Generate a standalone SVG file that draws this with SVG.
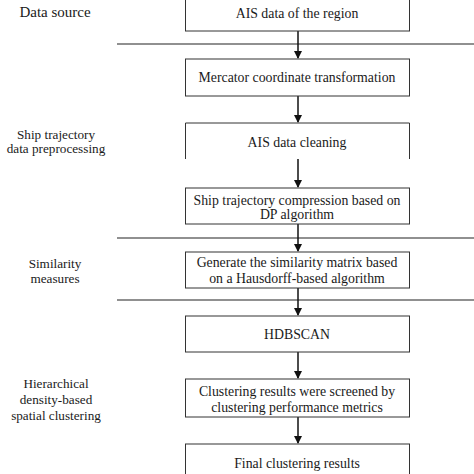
<svg xmlns="http://www.w3.org/2000/svg" width="474" height="474" viewBox="0 0 474 474">
<defs>
<marker id="ah" markerWidth="8" markerHeight="8" refX="7" refY="4" orient="auto" markerUnits="userSpaceOnUse">
<path d="M0,0 L8,4 L0,8 Z" fill="#111"/>
</marker>
<style>
.box{fill:#fff;stroke:#333;stroke-width:1}
.t{font-size:13.8px;fill:#1a1a1a;text-anchor:middle}
.lab{font-size:13.2px;fill:#1a1a1a;text-anchor:middle}
.sep{stroke:#222;stroke-width:1.2}
.arr{stroke:#111;stroke-width:1.5;fill:none;marker-end:url(#ah)}
</style>
</defs>
<rect width="474" height="474" fill="#fff"/>
<g id="separators">
<line class="sep" x1="117" y1="44" x2="474" y2="44"/>
<line class="sep" x1="117" y1="238" x2="474" y2="238"/>
<line class="sep" x1="117" y1="300" x2="474" y2="300"/>
</g>
<g id="labels" font-family="Liberation Serif, Times New Roman, DejaVu Serif, serif">
<text class="lab" x="55" y="17" style="font-size:15px">Data source</text>
<text class="lab" x="56" y="139">Ship trajectory</text>
<text class="lab" x="56" y="153">data preprocessing</text>
<text class="lab" x="55" y="268">Similarity</text>
<text class="lab" x="55" y="283">measures</text>
<text class="lab" x="56" y="388">Hierarchical</text>
<text class="lab" x="56" y="404">density-based</text>
<text class="lab" x="56" y="420">spatial clustering</text>
</g>
<g id="connectors">
<line class="arr" x1="298" y1="31" x2="298" y2="58"/>
<line class="arr" x1="298" y1="96" x2="298" y2="122"/>
<line class="arr" x1="298" y1="159" x2="298" y2="187"/>
<line class="arr" x1="298" y1="224" x2="298" y2="251"/>
<line class="arr" x1="298" y1="288" x2="298" y2="315"/>
<line class="arr" x1="298" y1="352" x2="298" y2="378"/>
<line class="arr" x1="298" y1="417" x2="298" y2="443"/>
</g>
<g id="nodes" font-family="Liberation Serif, Times New Roman, DejaVu Serif, serif">
<g id="n1">
<rect class="box" x="185.5" y="-8" width="224" height="39"/>
<text class="t" x="297" y="18">AIS data of the region</text>
</g>
<g id="n2">
<rect class="box" x="185.5" y="59" width="224" height="37"/>
<text class="t" x="297" y="82">Mercator coordinate transformation</text>
</g>
<g id="n3">
<path d="M185.5,159 V123 H409.5 V159" fill="#fff" stroke="#333" stroke-width="1"/>
<text class="t" x="297" y="147">AIS data cleaning</text>
</g>
<g id="n4">
<rect class="box" x="185.5" y="188" width="224" height="36"/>
<text class="t" x="297" y="205">Ship trajectory compression based on</text>
<text class="t" x="297" y="219">DP algorithm</text>
</g>
<g id="n5">
<rect class="box" x="185.5" y="252" width="224" height="36"/>
<text class="t" x="297" y="267">Generate the similarity matrix based</text>
<text class="t" x="297" y="283">on  a Hausdorff-based algorithm</text>
</g>
<g id="n6">
<rect class="box" x="185.5" y="316" width="224" height="36"/>
<text class="t" x="297" y="339">HDBSCAN</text>
</g>
<g id="n7">
<rect class="box" x="185.5" y="379" width="224" height="38"/>
<text class="t" x="297" y="396">Clustering results were screened by</text>
<text class="t" x="297" y="412">clustering performance metrics</text>
</g>
<g id="n8">
<rect class="box" x="185.5" y="444" width="224" height="40"/>
<text class="t" x="297" y="468">Final clustering results</text>
</g>
</g>
</svg>
